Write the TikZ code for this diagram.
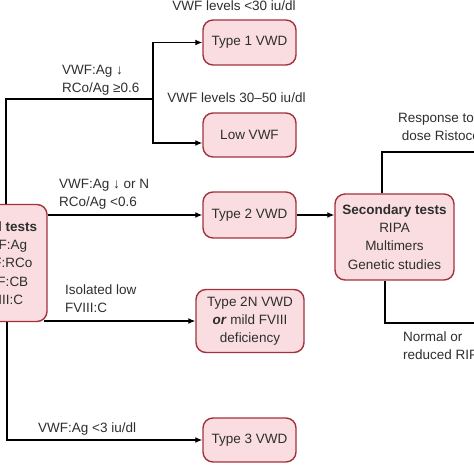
\documentclass[tikz,border=0pt]{standalone}
\usepackage{fontspec}
\setmainfont{Liberation Sans}
\usepackage{xcolor}
\usetikzlibrary{shapes,arrows,positioning,calc,arrows.meta}
\definecolor{boxfill}{HTML}{F9DDE0}
\definecolor{boxline}{HTML}{A3323D}
\definecolor{textgray}{HTML}{2E2E2E}

\begin{document}
\begin{tikzpicture}[x=1pt, y=1pt, >={Latex[length=7pt,width=6pt]}, font=\fontsize{13.5}{18.2}\selectfont]
    % Styles
    \tikzstyle{diag} = [draw=boxline, fill=boxfill, line width=1.4pt, rounded corners=10pt, align=center, text=textgray, inner sep=0pt]
    \tikzstyle{cond} = [align=left, text=textgray, inner sep=0pt, anchor=west]
    \tikzstyle{flow} = [line width=1.3pt, black]

    \useasboundingbox (0,0) rectangle (474,474);

    % Nodes
    \node [diag, minimum width=90pt, minimum height=117pt] (Init) at (2,211) {\textbf{Initial tests}\\VWF:Ag\\VWF:RCo\\VWF:CB\\FVIII:C};
    \node [diag, minimum width=93pt, minimum height=45pt] (Type1) at (249.5,431.5) {Type 1 VWD};
    \node [diag, minimum width=93pt, minimum height=44pt] (Low) at (249.5,339) {Low VWF};
    \node [diag, minimum width=93pt, minimum height=46pt] (Type2) at (249.5,259) {Type 2 VWD};
    \node [diag, minimum width=108pt, minimum height=63pt] (T2N) at (250,153) {Type 2N VWD\\\textbf{\textit{or}} mild FVIII\\deficiency};
    \node [diag, minimum width=93pt, minimum height=44pt] (Type3) at (249.5,34) {Type 3 VWD};
    \node [diag, minimum width=119pt, minimum height=86pt] (Sec) at (394.5,237) {\textbf{Secondary tests}\\RIPA\\Multimers\\Genetic studies};

    \coordinate (Split) at (153,375);
    \coordinate (RespEnd) at (480,322);
    \coordinate (NormEnd) at (480,151);

    % Labels
    \node [text=textgray] (LvlA) at (234,468) {VWF levels <30 iu/dl};
    \node [text=textgray] (LvlB) at (236.5,376) {VWF levels 30–50 iu/dl};
    \node [cond] (CondA) at (62,394) {VWF:Ag ↓\\RCo/Ag ≥0.6};
    \node [cond] (CondB) at (59,279.5) {VWF:Ag ↓ or N\\RCo/Ag <0.6};
    \node [cond] (CondC) at (65,175.5) {Isolated low\\FVIII:C};
    \node [cond] (CondD) at (38,45) {VWF:Ag <3 iu/dl};
    \node [cond, align=center] (Resp) at (398,347.5) {Response to low\\dose Ristocetin};
    \node [cond] (Norm) at (403,128) {Normal or\\reduced RIPA};

    % Connections
    \draw [flow] ([xshift=4pt]Init.north) |- (Split);
    \draw [flow, ->] (Split) |- (Type1.west);
    \draw [flow, ->] (Split) |- ([yshift=-8pt]Low.west);
    \draw [flow, ->] (Init.east |- Type2.west) -- (Type2.west);
    \draw [flow, ->] ([xshift=-4pt]Init.east |- T2N.west) -- (T2N.west);
    \draw [flow, ->] ([xshift=5pt]Init.south) |- (Type3.west);
    \draw [flow, ->] (Type2.east) -- (Type2.east -| Sec.west);
    \draw [flow] ([xshift=-12.5pt]Sec.north) |- (RespEnd);
    \draw [flow] ([xshift=-9.5pt]Sec.south) |- (NormEnd);
\end{tikzpicture}
\end{document}
